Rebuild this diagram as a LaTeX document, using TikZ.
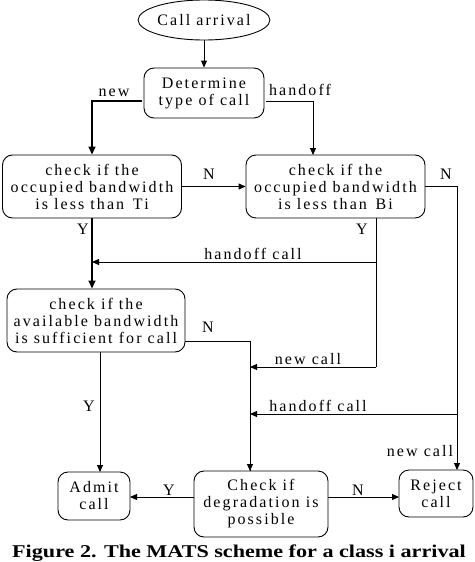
\documentclass[tikz,border=0pt]{standalone}
\usepackage{fontspec}
\setmainfont{Liberation Serif}
\newfontfamily\diag{Liberation Serif}[LetterSpace=13]
\usetikzlibrary{shapes.geometric,arrows.meta,calc}
\begin{document}
\begin{tikzpicture}[x=1pt,y=-1pt,
  txt/.style={font=\diag\fontsize{16}{17}\selectfont},
  box/.style={txt,draw,rounded corners=10pt,align=center,inner sep=0pt,line width=0.9pt},
  lbl/.style={txt,inner sep=1pt},
  conn/.style={line width=0.9pt,-{Triangle[length=7pt,width=6pt]}},
  thickconn/.style={line width=1.6pt,-{Triangle[length=8pt,width=7pt]}},
  plain/.style={line width=0.9pt}]
\useasboundingbox (0,0) rectangle (474,562);

% nodes
\node[ellipse,draw,line width=0.9pt,minimum width=112pt,minimum height=40pt,txt,inner sep=0pt] (arr) at (204,20) {Call arrival};
\node[box,minimum width=120pt,minimum height=50pt] (det) at (204,93) {Determine\\type of call};
\node[box,minimum width=179pt,minimum height=63pt] (ti) at (92,186.5) {check if the\\occupied bandwidth\\is less than\, Ti};
\node[box,minimum width=179pt,minimum height=63pt] (bi) at (335.5,186.5) {check if the\\occupied bandwidth\\is less than\, Bi};
\node[box,minimum width=178pt,minimum height=63pt] (av) at (96,320.5) {check if the\\available bandwidth\\is sufficient for call};
\node[box,minimum width=72pt,minimum height=48pt] (adm) at (94,496) {Admit\\call};
\node[box,minimum width=134pt,minimum height=66pt] (deg) at (261,504) {Check if\\degradation is\\possible};
\node[box,minimum width=74pt,minimum height=47pt] (rej) at (436,493.5) {Reject\\call};

% coordinates
\coordinate (newS) at (142,101);
\coordinate (hoS) at (266,101);
\coordinate (hoT) at (313,155);
\coordinate (biY) at (376,218);
\coordinate (biYa) at (376,262);
\coordinate (biYb) at (376,367);
\coordinate (join1) at (92,262);
\coordinate (vline) at (250,367);
\coordinate (vline2) at (250,414);
\coordinate (avN) at (185,341);
\coordinate (degT) at (250,471);
\coordinate (biNb) at (457,414);
\coordinate (rejT) at (457,470);
\coordinate (avY) at (100,352);
\coordinate (admT) at (100,472);
\coordinate (degW) at (194,497);
\coordinate (admE) at (130,497);
\coordinate (degE) at (328,497);
\coordinate (rejW) at (399,497);

% connectors
\draw[conn] (arr.south) -- (det.north);
\draw[thickconn] (newS) -| (ti.north);
\draw[conn] (hoS) -| (hoT);
\draw[conn] (ti.east) -- (bi.west);
\draw[thickconn] (ti.south) -- (ti.south |- av.north);
\draw[plain] (biY) -- (biYb);
\draw[conn] (biYa) -- (join1);
\draw[conn] (biYb) -- (vline);
\draw[plain] (avN) -| (degT);
\draw[conn] (vline) -- (degT);
\draw[plain] (bi.east) -| (biNb);
\draw[conn] (biNb) -- (vline2);
\draw[conn] (biNb) -- (rejT);
\draw[conn] (avY) -- (admT);
\draw[conn] (degW) -- (admE);
\draw[conn] (degE) -- (rejW);

% labels
\node[lbl] (lnew) at (114,93) {new};
\node[lbl] (lho) at (300,90) {handoff};
\node[lbl] (lN1) at (209,174) {N};
\node[lbl] (lN2) at (446,174) {N};
\node[lbl] (lY1) at (83,229) {Y};
\node[lbl] (lY2) at (362,229) {Y};
\node[lbl] (lhc1) at (253,254) {handoff call};
\node[lbl] (lnc1) at (308,359) {new call};
\node[lbl] (lN3) at (208,327) {N};
\node[lbl] (lhc2) at (318,406) {handoff call};
\node[lbl] (lY3) at (89,406) {Y};
\node[lbl] (lnc2) at (420,451) {new call};
\node[lbl] (lY4) at (169,490) {Y};
\node[lbl] (lN4) at (358,490) {N};

% caption
\node[anchor=base,inner sep=0pt] (cap) at (239,557) {\scalebox{1.23}[1]{\bfseries\fontsize{18}{20}\selectfont Figure 2. The MATS scheme for a class i arrival}};
\end{tikzpicture}
\end{document}
